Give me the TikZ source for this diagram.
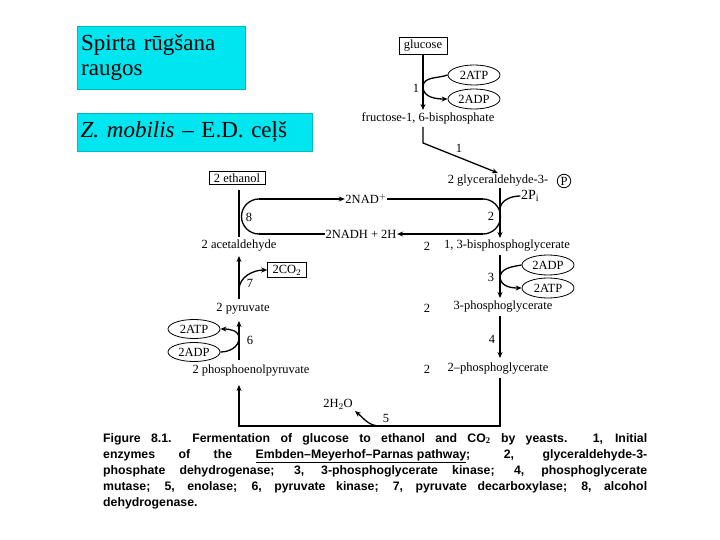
\documentclass[tikz,border=0pt]{standalone}
\usepackage{fontspec}
\setmainfont{Liberation Serif}
\newfontfamily\capfont{Liberation Sans}
\usetikzlibrary{arrows.meta,shapes.geometric}
\definecolor{cyanbox}{RGB}{0,230,240}
\begin{document}
\begin{tikzpicture}[x=1pt,y=-1pt,
  lbl/.style={font=\fontsize{12.5}{14}\selectfont,inner sep=0.5pt},
  boxed/.style={lbl,draw,thick,inner xsep=5pt,inner ysep=2.5pt},
  ell/.style={lbl,draw,thick,ellipse,minimum width=52pt,minimum height=20pt,inner sep=0pt},
  ln/.style={line width=1.3pt},
  ar/.style={ln,-{Stealth[length=6pt,width=5pt]}},
  hd/.style={fill=cyanbox,draw=cyanbox!80!black,font=\fontsize{23}{25}\selectfont,align=left,anchor=north west,inner sep=3pt}]
\useasboundingbox (0,0) rectangle (720,540);
\fill[white] (0,0) rectangle (720,540);
\node[hd,minimum width=168pt,minimum height=63pt,text width=160pt] (h1) at (77,26) {Spirta rūgšana\\raugos};
\node[hd,minimum width=235pt,minimum height=38pt,text width=228pt] (h2) at (77,113) {\textit{Z. mobilis} – E.D. ceļš};
% top
\node[boxed] (glu) at (423,46) {glucose};
\node[ell] (atp1) at (474,75) {2ATP};
\node[ell] (adp1) at (474,99) {2ADP};
\node[lbl] (fru) at (428,118) {fructose-1, 6-bisphosphate};
\node[lbl] (n1a) at (416,88) {1};
\node[lbl] (n1b) at (459,148) {1};
\draw[ar] (glu.south) -- (423,110);
\draw[ar] (atp1.west) to[out=200,in=90] (423,87) to[out=-90,in=180] (adp1.west);
\coordinate (k1) at (423,143);
\draw[ar] (423,127) -- (k1) -- (498,173);
\node[lbl] (gap) at (498,181) {2 glyceraldehyde-3-};
\node[lbl,draw,circle,inner sep=1pt,thick] (P) at (564,181) {P};
% right column
\node[lbl,font=\fontsize{14}{15}\selectfont] (pi) at (530,196) {2P$_\mathrm{i}$};
\draw[ar] (500,188) -- (500,238);
\draw[ln] (pi.west) to[out=180,in=90] (500,210);
\node[lbl] (n2) at (491,216) {2};
\node[lbl] (bpg) at (507,246) {1, 3-bisphosphoglycerate};
\node[lbl] (c2a) at (427,246) {2};
\node[ell] (adp2) at (548,265) {2ADP};
\node[ell] (atp2) at (548,288) {2ATP};
\draw[ar] (500,255) -- (500,298);
\draw[ar] (adp2.west) to[out=190,in=90] (500,278) to[out=-80,in=180] (atp2.west);
\node[lbl] (n3) at (491,277) {3};
\node[lbl] (pg3) at (503,307) {3-phosphoglycerate};
\node[lbl] (c2b) at (427,308) {2};
\draw[ar] (500,316) -- (500,358);
\node[lbl] (n4) at (492,339) {4};
\node[lbl] (pg2) at (498,369) {2–phosphoglycerate};
\node[lbl] (c2c) at (427,369) {2};
% bottom loop
\node[lbl] (h2o) at (338,404) {2H$_2$O};
\node[lbl] (n5) at (386,418) {5};
\draw[ar] (500,378) -- (500,426) -- (239,426) -- (239,385);
\draw[ar] (380,426) to[out=180,in=-40] (355,411);
% left column
\node[lbl] (pep) at (251,371) {2 phosphoenolpyruvate};
\node[ell,minimum width=52pt,minimum height=19pt] (atp3) at (194,329) {2ATP};
\node[ell,minimum width=52pt,minimum height=19pt] (adp3) at (194,352) {2ADP};
\draw[ar] (239,360) -- (239,321);
\draw[ar] (adp3.east) to[out=0,in=-90] (239,338) to[out=90,in=0] (atp3.east);
\node[lbl] (n6) at (250,340) {6};
\node[lbl] (pyr) at (243,309) {2 pyruvate};
\draw[ar] (239,299) -- (239,256);
\node[boxed] (co2) at (287,270) {2CO$_2$};
\draw[ar] (239,290) to[out=90,in=180] (co2.west);
\node[lbl] (n7) at (250,283) {7};
\node[lbl] (acet) at (239,246) {2 acetaldehyde};
\node[boxed] (eth) at (237,178) {2 ethanol};
\draw[ln] (239,237) -- (239,190);
% NAD loop
\node[lbl] (nad) at (366,199) {2NAD$^{+}$};
\node[lbl] (nadh) at (361,234) {2NADH + 2H};
\draw[ar] (259,199) -- (nad.west);
\draw[ln] (nad.east) -- (483,199);
\draw[ln] (259,199) arc[start angle=270,end angle=90,radius=17.5];
\draw[ln] (483,199) arc[start angle=270,end angle=450,radius=17.5];
\draw[ar] (483,234) -- (nadh.east);
\draw[ln] (nadh.west) -- (259,234);
\node[lbl] (n8) at (249,217) {8};
% caption
\node[anchor=north west,inner sep=0pt,font=\capfont\bfseries\fontsize{12.3}{16}\selectfont,align=left] (cap) at (103,433) {%
\makebox[544pt][s]{Figure 8.1.\ \ Fermentation of glucose to ethanol and CO$_\mathbf{2}$ by yeasts. 1, Initial}\\
\makebox[544pt][s]{enzymes of the \underline{Embden–Meyerhof–Parnas pathway}; 2, glyceraldehyde-3-}\\
\makebox[544pt][s]{phosphate dehydrogenase; 3, 3-phosphoglycerate kinase; 4, phosphoglycerate}\\
\makebox[544pt][s]{mutase; 5, enolase; 6, pyruvate kinase; 7, pyruvate decarboxylase; 8, alcohol}\\
dehydrogenase.};
\end{tikzpicture}
\end{document}
